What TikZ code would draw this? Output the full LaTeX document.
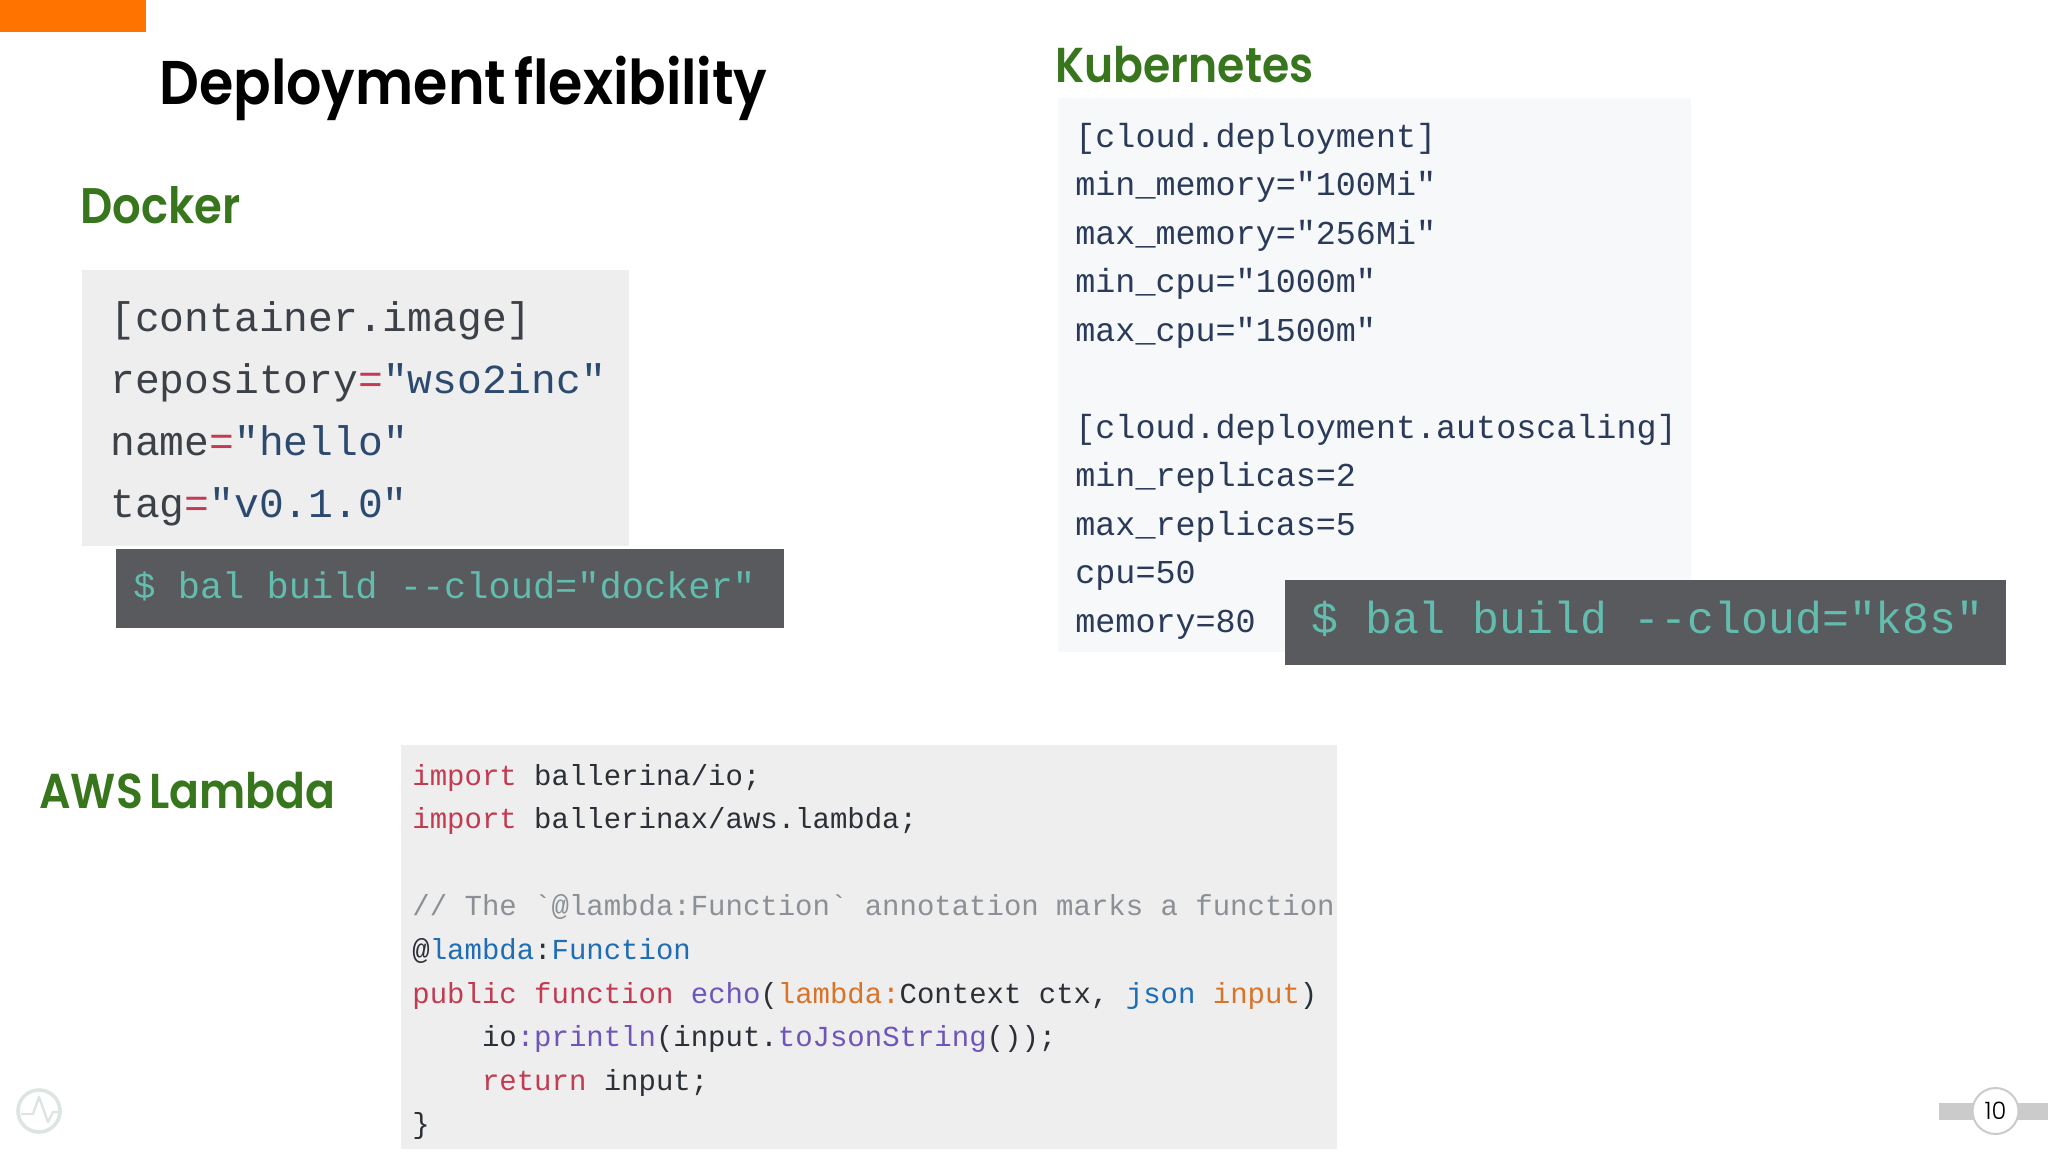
\documentclass[tikz,border=0pt]{standalone}
\usepackage{fontspec}
\setmainfont{Poppins}
\newfontfamily\titlefont{Poppins}[UprightFont=* SemiBold,FakeStretch=0.9]
\newfontfamily\headfont{Poppins}[UprightFont=* SemiBold,FakeStretch=0.9,WordSpace=0.6]
\newfontfamily\pagefont{Poppins}[UprightFont=* Light]
\newfontfamily\codefont{Liberation Mono}
\definecolor{slideorange}{HTML}{FF7300}
\definecolor{headgreen}{HTML}{38761D}
\definecolor{boxgrey}{HTML}{EEEEEE}
\definecolor{boxpale}{HTML}{F6F8FA}
\definecolor{boxdark}{HTML}{595A5E}
\definecolor{promptteal}{HTML}{62BDAE}
\definecolor{codeink}{HTML}{2B2F36}
\definecolor{tomlink}{HTML}{2A3A58}
\definecolor{tomlkey}{HTML}{3C4148}
\definecolor{kwred}{HTML}{C23B52}
\definecolor{strblue}{HTML}{2C4A70}
\definecolor{comgrey}{HTML}{8B9096}
\definecolor{typeblue}{HTML}{1F6DB5}
\definecolor{fnpurple}{HTML}{6F55BA}
\definecolor{varorange}{HTML}{D8742A}
\definecolor{barline}{HTML}{CBCBCB}
\definecolor{logoline}{HTML}{DDE5E3}
\newcommand{\kw}[1]{\textcolor{kwred}{#1}}
\newcommand{\str}[1]{\textcolor{strblue}{#1}}
\newcommand{\ty}[1]{\textcolor{typeblue}{#1}}
\newcommand{\fn}[1]{\textcolor{fnpurple}{#1}}
\newcommand{\va}[1]{\textcolor{varorange}{#1}}
\tikzset{
  codeline/.style={anchor=base west,inner sep=0pt},
  sectionhead/.style={anchor=base west,inner sep=0pt,text=headgreen,font=\fontsize{24.5pt}{28pt}\headfont},
  promptline/.style={anchor=base west,inner sep=0pt,text=promptteal}
}
\begin{document}
\begin{tikzpicture}[x=.5pt,y=-.5pt]
  \useasboundingbox (0,0) rectangle (2048,1152);
  \fill[slideorange] (0,0) rectangle (146,32);
  \node[anchor=base west,inner sep=0pt,font=\fontsize{30.85pt}{34pt}\titlefont] (slidetitle) at (159,104) {Deployment flexibility};
  \node[sectionhead,font=\fontsize{25pt}{28pt}\headfont] (dockerhead) at (80,223) {Docker};
  \node[sectionhead] (k8shead) at (1055,82) {Kubernetes};
  \node[sectionhead] (lambdahead) at (39,808) {AWS Lambda};
  \fill[boxgrey] (82,270) rectangle (629,546);
  \foreach \txt [count=\i from 0] in {
    {[container.image]},
    {repository\kw{=}\str{"wso2inc"}},
    {name\kw{=}\str{"hello"}},
    {tag\kw{=}\str{"v0.1.0"}}}
    \node[codeline,text=tomlkey,font=\fontsize{20.65pt}{24pt}\codefont] (dockerline\i) at (110,331+62.2*\i) {\txt};
  \fill[boxdark] (116,549) rectangle (784,628);
  \node[promptline,font=\fontsize{18.5pt}{22pt}\codefont] (dockerprompt) at (133,598) {\$ bal build --cloud="docker"};
  \fill[boxpale] (1058,98) rectangle (1691,652);
  \foreach \txt [count=\i from 0] in {
    {[cloud.deployment]},
    {min\_memory="100Mi"},
    {max\_memory="256Mi"},
    {min\_cpu="1000m"},
    {max\_cpu="1500m"},
    {},
    {[cloud.deployment.autoscaling]},
    {min\_replicas=2},
    {max\_replicas=5},
    {cpu=50},
    {memory=80}}
    \node[codeline,text=tomlink,font=\fontsize{16.7pt}{20pt}\codefont] (k8sline\i) at (1075,147+48.5*\i) {\txt};
  \fill[boxdark] (1285,580) rectangle (2006,665);
  \node[promptline,font=\fontsize{22.4pt}{26pt}\codefont] (k8sprompt) at (1311,633) {\$ bal build --cloud="k8s"};
  \fill[boxgrey] (401,745) rectangle (1337,1149);
  \foreach \txt [count=\i from 0] in {
    {\kw{import} ballerina/io;},
    {\kw{import} ballerinax/aws.lambda;},
    {},
    {\textcolor{comgrey}{// The `@lambda:Function` annotation marks a function}},
    {@\ty{lambda}:\ty{Function}},
    {\kw{public function} \fn{echo}(\va{lambda:}Context ctx, \ty{json} \va{input})},
    {\ \ \ \ io\fn{:println}(input.\fn{toJsonString}());},
    {\ \ \ \ \kw{return} input;},
    {\}}}
    \node[codeline,text=codeink,font=\fontsize{14.5pt}{18pt}\codefont] (lambdaline\i) at (412,785+43.6*\i) {\txt};
  \draw[logoline,line width=1.8pt] (39,1111) circle[radius=21];
  \draw[logoline,line width=1.2pt,line join=round] (21,1114) -- (33,1114) -- (39,1097) -- (48,1122) -- (53,1112) -- (59,1112);
  \fill[barline] (1939,1103) rectangle (2048,1120);
  \node[circle,draw=barline,fill=white,line width=1pt,minimum size=23pt,inner sep=0pt,font=\fontsize{12pt}{14pt}\pagefont] (pagemark) at (1995.5,1111) {10};
\end{tikzpicture}
\end{document}
